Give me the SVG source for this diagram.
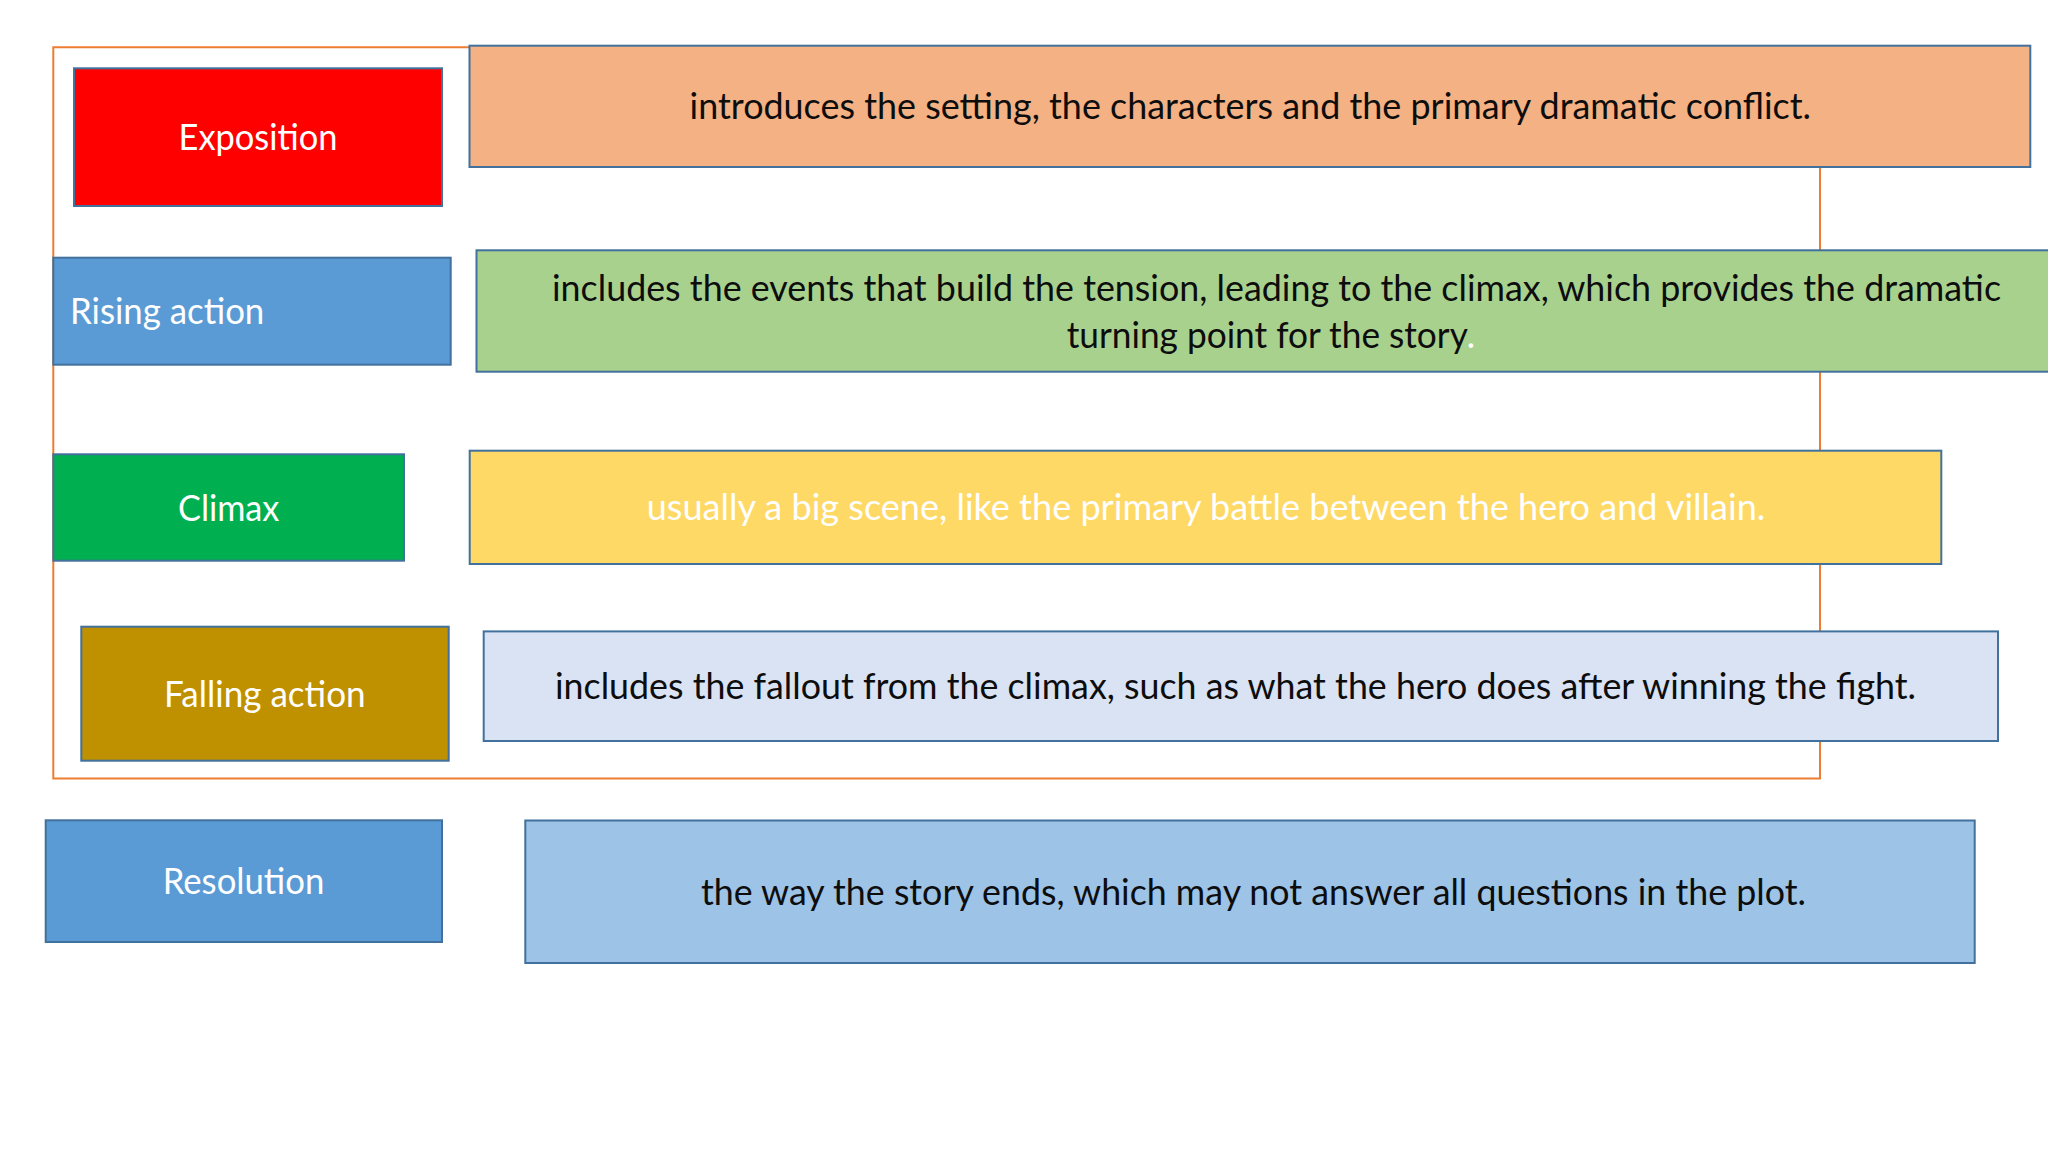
<svg xmlns="http://www.w3.org/2000/svg" width="2048" height="1152" viewBox="0 0 2048 1152">
<style>
.box{stroke:#41719C;stroke-width:2}
.lbl{font-family:Lato,"Open Sans","Liberation Sans",sans-serif;font-size:36px;fill:#FFFFFF;text-anchor:middle}
.desc{font-family:Lato,"Open Sans","Liberation Sans",sans-serif;font-size:36px;fill:#0D0D0D;text-anchor:middle}
.frame{fill:none;stroke:#ED7D31;stroke-width:2}
</style>
<rect width="2048" height="1152" fill="#FFFFFF"/>
<g id="connectors">
<path class="frame" d="M53.3,47.3 H1820 V778.5 H53.3 Z"/>
</g>
<g id="exposition">
<rect class="box" x="74" y="68.3" width="368" height="137.7" fill="#FF0000"/>
<text class="lbl" x="258" y="150" textLength="159" lengthAdjust="spacingAndGlyphs">Exposition</text>
</g>
<g id="exposition-desc">
<rect class="box" x="469.5" y="45.7" width="1560.8" height="121.3" fill="#F4B183"/>
<text class="desc" x="1250.3" y="119.3" textLength="1121.5" lengthAdjust="spacingAndGlyphs">introduces the setting, the characters and the primary dramatic conflict.</text>
</g>
<g id="rising-action">
<rect class="box" x="53.3" y="257.7" width="397.4" height="107" fill="#5B9BD5"/>
<text class="lbl" x="70" y="324.3" style="text-anchor:start" textLength="194.3" lengthAdjust="spacingAndGlyphs">Rising action</text>
</g>
<g id="rising-action-desc">
<rect class="box" x="476.5" y="250.3" width="1600" height="121.4" fill="#A9D18E"/>
<text class="desc" x="1276.5" y="301" textLength="1449" lengthAdjust="spacingAndGlyphs">includes the events that build the tension, leading to the climax, which provides the dramatic</text>
<text class="desc" x="1270.8" y="348" textLength="408.3" lengthAdjust="spacingAndGlyphs">turning point for the story<tspan fill="#FFFFFF">.</tspan></text>
</g>
<g id="climax">
<rect class="box" x="53.3" y="454.3" width="350.7" height="106.4" fill="#00B050"/>
<text class="lbl" x="228.7" y="520.7" textLength="101.3" lengthAdjust="spacingAndGlyphs">Climax</text>
</g>
<g id="climax-desc">
<rect class="box" x="469.7" y="450.7" width="1471.6" height="113.3" fill="#FFD966"/>
<text class="lbl" x="1206" y="520" textLength="1118.6" lengthAdjust="spacingAndGlyphs">usually a big scene, like the primary battle between the hero and villain.</text>
</g>
<g id="falling-action">
<rect class="box" x="81.3" y="626.7" width="367.4" height="134" fill="#BF9000"/>
<text class="lbl" x="264.8" y="706.7" textLength="201.7" lengthAdjust="spacingAndGlyphs">Falling action</text>
</g>
<g id="falling-action-desc">
<rect class="box" x="483.7" y="631.4" width="1514.3" height="109.6" fill="#DAE3F3"/>
<text class="desc" x="1235.5" y="698.6" textLength="1361" lengthAdjust="spacingAndGlyphs">includes the fallout from the climax, such as what the hero does after winning the fight.</text>
</g>
<g id="resolution">
<rect class="box" x="45.7" y="820.3" width="396.3" height="121.7" fill="#5B9BD5"/>
<text class="lbl" x="243.5" y="894.3" textLength="161.6" lengthAdjust="spacingAndGlyphs">Resolution</text>
</g>
<g id="resolution-desc">
<rect class="box" x="525.3" y="820.5" width="1449.4" height="142.5" fill="#9DC3E6"/>
<text class="desc" x="1253.5" y="904.5" textLength="1105" lengthAdjust="spacingAndGlyphs">the way the story ends, which may not answer all questions in the plot.</text>
</g>
</svg>
